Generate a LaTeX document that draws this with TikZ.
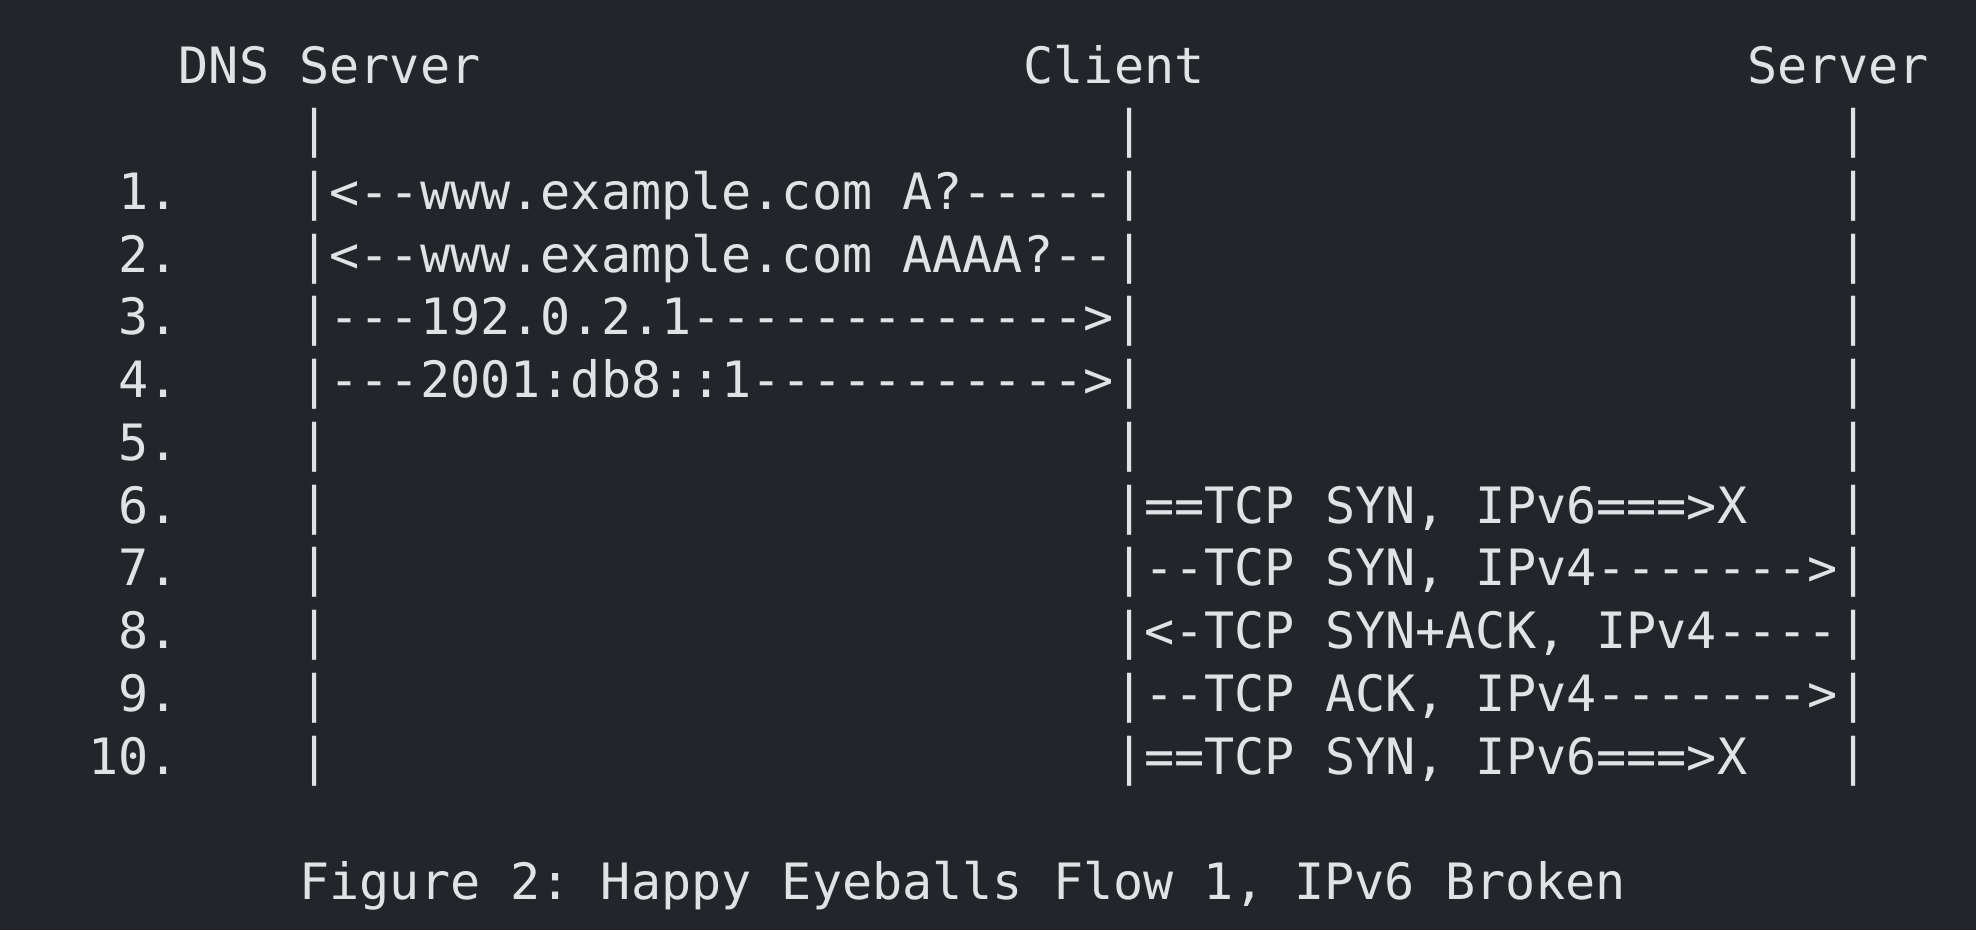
\documentclass[tikz,border=0pt]{standalone}
\usepackage{fontspec}
\setmonofont{DejaVu Sans Mono}
\definecolor{bgterm}{RGB}{34,37,41}
\definecolor{fgterm}{RGB}{224,226,230}
\tikzset{ascii/.style={anchor=base west, inner sep=0pt, outer sep=0pt, text=fgterm,
    font=\ttfamily\frenchspacing\fontsize{12.52}{15}\selectfont}}
% character grid: column -> x, row -> y (pixels from top left)
\newcommand{\cx}[1]{88.3+30.17*(#1)}
\newcommand{\ry}[1]{83.8+62.75*(#1)}

\begin{document}
\begin{tikzpicture}[x=0.25pt,y=-0.25pt]
		\fill[bgterm] (0,0) rectangle (1976,930);
		\useasboundingbox (0,0) rectangle (1976,930);
		% headers
		\node[ascii] (dns) at ({\cx{3}},{\ry{0}}) {DNS Server};
		\node[ascii] (client) at ({\cx{31}},{\ry{0}}) {Client};
		\node[ascii] (server) at ({\cx{55}},{\ry{0}}) {Server};
		% lifelines
		\foreach \r in {1,...,11}{
			\foreach \c in {7,34,58}
				\node[ascii] (l\r-\c) at ({\cx{\c}},{\ry{\r}}) {|};
		}
		% step numbers
		\foreach \n in {1,...,9}
			\node[ascii] (n\n) at ({\cx{1}},{\ry{\n+1}}) {\n.};
		\node[ascii] (n10) at ({\cx{0}},{\ry{11}}) {10.};
		% messages
		\node[ascii] (msg1) at ({\cx{8}},{\ry{2}}) {<--www.example.com A?-----};
		\node[ascii] (msg2) at ({\cx{8}},{\ry{3}}) {<--www.example.com AAAA?--};
		\node[ascii] (msg3) at ({\cx{8}},{\ry{4}}) {---192.0.2.1------------->};
		\node[ascii] (msg4) at ({\cx{8}},{\ry{5}}) {---2001:db8::1----------->};
		\node[ascii] (msg6) at ({\cx{35}},{\ry{7}}) {==TCP SYN, IPv6===>X};
		\node[ascii] (msg7) at ({\cx{35}},{\ry{8}}) {--TCP SYN, IPv4------->};
		\node[ascii] (msg8) at ({\cx{35}},{\ry{9}}) {<-TCP SYN+ACK, IPv4----};
		\node[ascii] (msg9) at ({\cx{35}},{\ry{10}}) {--TCP ACK, IPv4------->};
		\node[ascii] (msg10) at ({\cx{35}},{\ry{11}}) {==TCP SYN, IPv6===>X};
		% caption
		\node[ascii] (caption) at ({\cx{7}},{\ry{13}}) {Figure 2: Happy Eyeballs Flow 1, IPv6 Broken};
	\end{tikzpicture}
\end{document}
